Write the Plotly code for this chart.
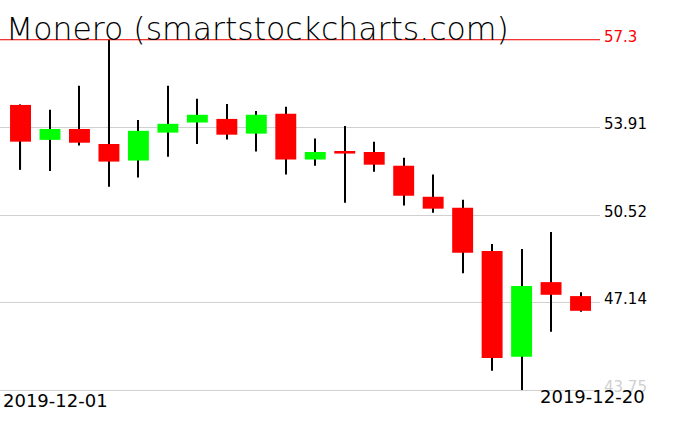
import plotly.graph_objects as go

# daily candles for Monero, Dec 2019
dates = ["2019-12-01", "2019-12-02", "2019-12-03", "2019-12-04", "2019-12-05",
         "2019-12-06", "2019-12-07", "2019-12-08", "2019-12-09", "2019-12-10",
         "2019-12-11", "2019-12-12", "2019-12-13", "2019-12-14", "2019-12-15",
         "2019-12-16", "2019-12-17", "2019-12-18", "2019-12-19", "2019-12-20"]
opens = [54.78, 53.43, 53.85, 53.27, 52.63, 53.71, 54.10, 54.24, 53.67, 54.44,
         52.67, 53.00, 52.96, 52.43, 51.23, 50.81, 49.13, 45.04, 47.93, 47.39]
highs = [54.80, 54.59, 55.52, 57.30, 54.20, 55.52, 55.02, 54.82, 54.55, 54.71,
         53.48, 53.97, 53.36, 52.74, 52.09, 51.11, 49.40, 49.21, 49.87, 47.54]
lows = [52.27, 52.23, 53.21, 51.62, 51.97, 52.78, 53.27, 53.44, 52.98, 52.09,
        52.43, 51.00, 52.20, 50.89, 50.61, 48.27, 44.50, 43.76, 46.01, 46.78]
closes = [53.36, 53.85, 53.32, 52.59, 53.78, 54.05, 54.40, 53.63, 54.40, 52.67,
          52.96, 52.90, 52.47, 51.27, 50.77, 49.07, 45.00, 47.78, 47.44, 46.82]

ytick_vals = [43.75, 47.14, 50.52, 53.91, 57.3]
ytick_text = ["<span style='color:#d0d0d0'>43.75</span>", "47.14", "50.52", "53.91",
              "<span style='color:red'>57.3</span>"]
title_text = "Monero (smartstockcharts.com)"

# bodies and wicks as overlaid bars so wicks sit behind the bodies
body_base = [min(o, c) for o, c in zip(opens, closes)]
body_len = [abs(c - o) for o, c in zip(opens, closes)]
body_col = ["#00ff00" if c > o else "#ff0000" for o, c in zip(opens, closes)]
wick_len = [h - l for h, l in zip(highs, lows)]

fig = go.Figure()
fig.add_trace(go.Bar(x=dates, y=wick_len, base=lows, width=0.036,
                     marker=dict(color="black", line=dict(width=0)),
                     hoverinfo="skip"))
fig.add_trace(go.Bar(x=dates, y=body_len, base=body_base, width=0.71,
                     marker=dict(color=body_col, line=dict(width=0))))

# red line at the period high
fig.add_shape(type="line", xref="paper", x0=0, x1=1, yref="y",
              y0=max(highs), y1=max(highs), line=dict(color="red", width=1))

fig.add_annotation(text=title_text, xref="paper", yref="paper", x=0, y=1,
                   xanchor="left", yanchor="middle", xshift=4, yshift=3,
                   showarrow=False,
                   font=dict(family="DejaVu Sans", size=31.5, color="black", weight=200))
fig.add_annotation(text=dates[0], xref="paper", yref="paper", x=0, y=0,
                   xanchor="left", yanchor="middle", xshift=1, yshift=-2,
                   showarrow=False,
                   font=dict(family="DejaVu Sans", size=18, color="black"))
fig.add_annotation(text=dates[-1], xref="paper", yref="paper", x=1, y=0,
                   xanchor="right", yanchor="middle", xshift=47, yshift=2,
                   showarrow=False,
                   font=dict(family="DejaVu Sans", size=18, color="black"))

fig.update_layout(
    width=676, height=431,
    margin=dict(l=0, r=76, t=32, b=33),
    paper_bgcolor="white", plot_bgcolor="white",
    barmode="overlay", showlegend=False,
    xaxis=dict(type="category", range=[-0.696, 19.66], showticklabels=False,
               showgrid=False, zeroline=False, showline=False, ticks=""),
    yaxis=dict(side="right", range=[43.45, 57.6], tickvals=ytick_vals, ticktext=ytick_text,
               ticklabelposition="outside top", ticklabelshift=7, ticklabelstandoff=3,
               showgrid=True, gridcolor="#d0d0d0",
               gridwidth=1, zeroline=False, showline=False, ticks="",
               tickfont=dict(family="DejaVu Sans", size=15, color="black")),
)

# page body has a default 8px margin; drop it so the figure fills the window
fig.write_html("out.html", config={"displayModeBar": False},
               post_script="document.body.style.margin='0';")
